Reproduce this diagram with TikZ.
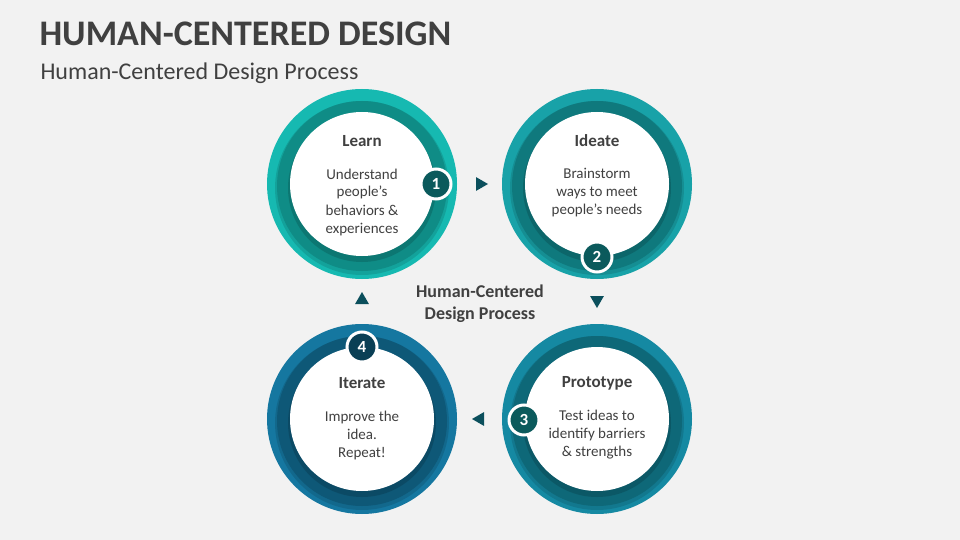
\documentclass[tikz,border=0pt]{standalone}
\usepackage{fontspec}
\setmainfont{Carlito}
\usetikzlibrary{shapes.geometric}
\definecolor{bg}{HTML}{F2F2F2}
\definecolor{txt}{HTML}{404040}
\definecolor{oA}{HTML}{16B9B1}\definecolor{rA}{HTML}{0F8C86}
\definecolor{oB}{HTML}{18A2A8}\definecolor{rB}{HTML}{0F797D}
\definecolor{oC}{HTML}{1589A2}\definecolor{rC}{HTML}{0E6878}
\definecolor{oD}{HTML}{1577A0}\definecolor{rD}{HTML}{0E5877}
\definecolor{badgeA}{HTML}{0B5A5C}
\definecolor{badgeD}{HTML}{0A3F55}
\definecolor{tri}{HTML}{0B4F5C}
\tikzset{
  badge/.style={circle, fill=#1, draw=white, line width=3pt, minimum size=30pt, inner sep=0pt, text=white, font=\bfseries\fontsize{17}{17}\selectfont},
  ttl/.style={text=txt, font=\bfseries\fontsize{17}{18}\selectfont},
  body/.style={text=txt, align=center, font=\fontsize{15}{18}\selectfont},
  arr/.style={isosceles triangle, isosceles triangle apex angle=60, fill=tri, inner sep=0pt, minimum height=12pt, minimum width=13pt},
}
\newcommand{\stage}[4]{%
  \fill[#3] (#1,#2) circle (95);
  \fill[black, opacity=0.12] (#1,#2+4) circle (87);
  \fill[#4] (#1,#2+2) circle (85);
  \fill[black, opacity=0.15] (#1,#2+4) circle (74);
  \fill[white] (#1,#2) circle (72);
}
\begin{document}
\begin{tikzpicture}[x=1pt,y=-1pt]
\fill[bg] (0,0) rectangle (960,540);
\useasboundingbox (0,0) rectangle (960,540);
\node[anchor=base west, text=txt, font=\bfseries\fontsize{36}{36}\selectfont] (title) at (36,46) {HUMAN-CENTERED DESIGN};
\node[anchor=base west, text=txt, font=\fontsize{24}{24}\selectfont] (subtitle) at (37,80) {Human-Centered Design Process};

\stage{362}{184}{oA}{rA}
\stage{597}{184}{oB}{rB}
\stage{597}{419}{oC}{rC}
\stage{362}{419}{oD}{rD}

\node[ttl] (t1) at (362,141) {Learn};
\node[body] (b1) at (362,202) {Understand\\people’s\\behaviors \&\\experiences};
\node[ttl] (t2) at (597,141) {Ideate};
\node[body] (b2) at (597,193) {Brainstorm\\ways to meet\\people’s needs};
\node[ttl] (t3) at (597,383) {Prototype};
\node[body] (b3) at (597,435) {Test ideas to\\identify barriers\\\& strengths};
\node[ttl] (t4) at (362,383) {Iterate};
\node[body] (b4) at (362,435) {Improve the\\idea.\\Repeat!};

\node[badge=badgeA] (n1) at (436,184) {1};
\node[badge=badgeA] (n2) at (597,257) {2};
\node[badge=badgeA] (n3) at (524,420) {3};
\node[badge=badgeD] (n4) at (362,347) {4};

\node[arr, shape border rotate=0] (a1) at (480,184) {};
\node[arr, shape border rotate=270] (a2) at (597,300) {};
\node[arr, shape border rotate=180] (a3) at (480,419) {};
\node[arr, shape border rotate=90] (a4) at (362,300) {};

\node[text=txt, align=center, font=\bfseries\fontsize{18}{22}\selectfont] (center) at (480,304) {Human-Centered\\Design Process};
\end{tikzpicture}
\end{document}
